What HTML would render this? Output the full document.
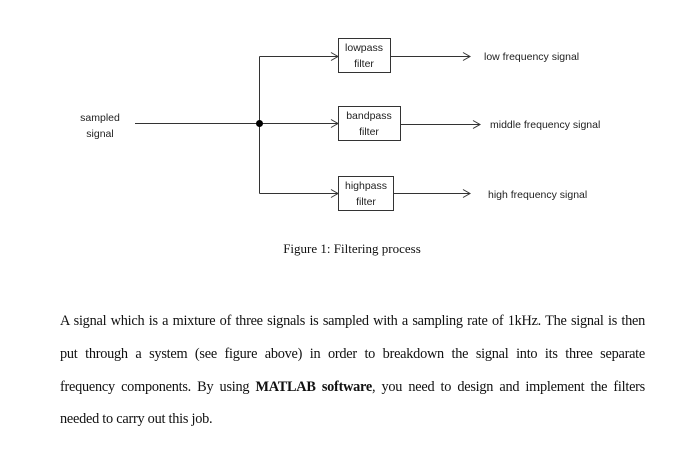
<!DOCTYPE html>
<html><head><meta charset="utf-8"><style>
body{margin:0;width:690px;height:458px;background:#fff;position:relative;overflow:hidden}
svg{position:absolute;left:0;top:0}
.p{position:absolute;left:60px;width:585px;font-family:"Liberation Serif",serif;font-size:14.3px;letter-spacing:-0.25px;color:#111;text-align:justify;text-align-last:justify;white-space:nowrap}
</style></head><body>
<svg width="690" height="458" font-family="Liberation Sans, sans-serif" font-size="10.5" fill="#222">
<g stroke="#333" stroke-width="1" fill="none">
<rect x="338.5" y="38.5" width="52" height="34"/>
<rect x="338.5" y="106.5" width="62" height="34"/>
<rect x="338.5" y="176.5" width="55" height="34"/>
<path d="M135 123.5H338M259.5 56.5V193.5M259.5 56.5H338M259.5 193.5H338"/>
<path d="M391 56.5H470M401 124.5H480M394 193.5H470"/>
<path d="M331 52.5l7 4-7 4M331 119.5l7 4-7 4M331 189.5l7 4-7 4"/>
<path d="M463 52.5l7 4-7 4M473 120.5l7 4-7 4M463 189.5l7 4-7 4"/>
</g>
<circle cx="259.5" cy="123.5" r="3.5" fill="#000"/>
<g text-anchor="middle">
<text x="364" y="51">lowpass</text><text x="364" y="67">filter</text>
<text x="369" y="119">bandpass</text><text x="369" y="135">filter</text>
<text x="366" y="189">highpass</text><text x="366" y="205">filter</text>
<text x="100" y="121">sampled</text><text x="100" y="137">signal</text>
</g>
<text x="484" y="60">low frequency signal</text>
<text x="490" y="128">middle frequency signal</text>
<text x="488" y="198">high frequency signal</text>
<text x="352" y="253" text-anchor="middle" font-family="Liberation Serif, serif" font-size="13" fill="#111">Figure 1: Filtering process</text>
</svg>
<div class="p" style="top:313px">A signal which is a mixture of three signals is sampled with a sampling rate of 1kHz. The signal is then</div>
<div class="p" style="top:346px">put through a system (see figure above) in order to breakdown the signal into its three separate</div>
<div class="p" style="top:379px">frequency components. By using <b>MATLAB software</b>, you need to design and implement the filters</div>
<div class="p" style="top:411px;text-align-last:left">needed to carry out this job.</div>
</body></html>
